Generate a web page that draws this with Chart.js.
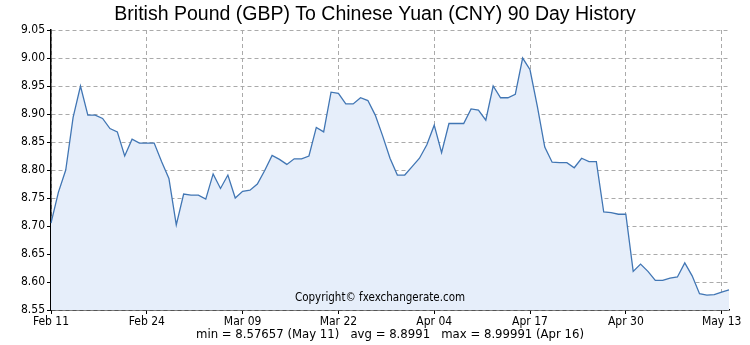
<!DOCTYPE html>
<html>
<head>
<meta charset="utf-8">
<script src="https://cdn.jsdelivr.net/npm/chart.js@4.4.0/dist/chart.umd.min.js"></script>
<style>
  html, body { margin: 0; padding: 0; background: #fff; }
  #wrap { width: 750px; height: 345px; }
</style>
</head>
<body>
<div id="wrap"><canvas id="fxChart" width="750" height="345"></canvas></div>
<script>
// GBP -> CNY daily rates, Feb 11 .. May 14 (one value per day)
const rates = [
  8.705, 8.760, 8.800, 8.894, 8.950, 8.898, 8.898, 8.892, 8.874, 8.868,
  8.825, 8.855, 8.848, 8.848, 8.848, 8.815, 8.785, 8.702, 8.757, 8.755,
  8.755, 8.748, 8.793, 8.767, 8.791, 8.750, 8.762, 8.764, 8.775, 8.799,
  8.826, 8.819, 8.810, 8.820, 8.820, 8.825, 8.876, 8.868, 8.939, 8.937,
  8.918, 8.918, 8.929, 8.924, 8.898, 8.861, 8.821, 8.791, 8.791, 8.806,
  8.821, 8.845, 8.880, 8.831, 8.883, 8.883, 8.883, 8.909, 8.907, 8.889,
  8.950, 8.929, 8.929, 8.935, 8.99991, 8.979, 8.913, 8.841, 8.814, 8.813,
  8.813, 8.804, 8.821, 8.815, 8.815, 8.725, 8.724, 8.721, 8.721, 8.619,
  8.632, 8.619, 8.603, 8.603, 8.607, 8.609, 8.634, 8.611, 8.579, 8.57657,
  8.5775, 8.582, 8.586
];
// a labelled tick every 13 days
const tickLabels = ["Feb 11", "Feb 24", "Mar 09", "Mar 22", "Apr 04", "Apr 17", "Apr 30", "May 13"];
const tickEvery = 13;
const days = rates.map((v, i) => i);

const titleText = "British Pound (GBP) To Chinese Yuan (CNY) 90 Day History";
const statsText = "min = 8.57657 (May 11)   avg = 8.8991   max = 8.99991 (Apr 16)";
const copyText = "Copyright\u00a9 fxexchangerate.com";

const narrow = "'Liberation Sans Narrow', 'DejaVu Sans Condensed', sans-serif";
const gridGray = "#aaaaaa";

const textPlugin = {
  id: "texts",
  afterDraw(chart) {
    const ctx = chart.ctx;
    ctx.save();
    ctx.fillStyle = "#000";
    ctx.textAlign = "center";
    ctx.textBaseline = "middle";
    ctx.font = "19.5px 'Liberation Sans', Arial, sans-serif";
    ctx.fillText(titleText, 375, 15);
    ctx.font = "11.5px " + narrow;
    ctx.fillText(copyText, 380, 298);
    ctx.font = "13px " + narrow;
    ctx.fillText(statsText, 390, 335);
    ctx.restore();
  }
};

new Chart(document.getElementById("fxChart"), {
  type: "line",
  data: {
    labels: days,
    datasets: [{
      data: rates,
      borderColor: "#4176b4",
      borderWidth: 1.3,
      backgroundColor: "#e6eefa",
      fill: "start",
      pointRadius: 0,
      tension: 0
    }]
  },
  options: {
    responsive: false,
    animation: false,
    layout: { padding: { top: 30, right: 21, left: 0, bottom: 0 } },
    plugins: { legend: { display: false }, tooltip: { enabled: false } },
    scales: {
      x: {
        type: "category",
        offset: false,
        afterFit(scale) { scale.height = 35; },
        grid: {
          color: c => (c.index % tickEvery === 0 ? gridGray : "transparent"),
          tickColor: c => (c.index % tickEvery === 0 ? "#000" : "transparent"),
          tickLength: 4
        },
        border: { color: "#000", width: 1.5, dash: [4, 3] },
        ticks: {
          autoSkip: false,
          maxRotation: 0,
          padding: 1,
          color: "#000",
          font: { size: 12, family: narrow },
          callback: (v, i) => (i % tickEvery === 0 ? tickLabels[i / tickEvery] : "")
        }
      },
      y: {
        min: 8.55,
        max: 9.05,
        afterFit(scale) { scale.width = 51; },
        grid: { color: gridGray, tickColor: "#000", tickLength: 4 },
        border: { color: "#000", width: 1.5, dash: [4, 3] },
        ticks: {
          stepSize: 0.05,
          padding: 2,
          color: "#000",
          font: { size: 12, family: narrow },
          callback: v => v.toFixed(2)
        }
      }
    }
  },
  plugins: [textPlugin]
});
</script>
</body>
</html>
